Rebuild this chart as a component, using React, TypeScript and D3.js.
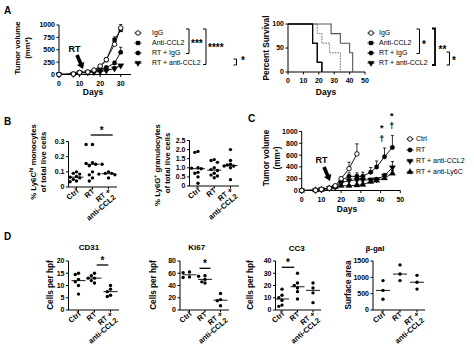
import React from 'react';
import * as d3 from 'd3';

const FONT = '"Liberation Sans", Arial, Helvetica, sans-serif';

// ---------- Panel A (left): tumor volume ----------
const aDays = [0, 7, 10, 14, 17, 20, 23, 27, 30];
const aIgG = [0, 10, 40, 50, 90, 170, 300, 610, 940];
const aIgGErr = [0, 3, 8, 10, 15, 25, 40, 110, 70];
const aAnti = [0, 10, 40, 50, 80, 160, 290, 700, 900];
const aAntiErr = [0, 3, 8, 10, 15, 25, 35, 60, 60];
const aRtIgG = [0, 10, 40, 50, 70, 110, 140, 230, 450];
const aRtIgGErr = [0, 3, 8, 10, 12, 20, 25, 40, 100];
const aRtAnti = [0, 10, 30, 40, 50, 60, 80, 120, 180];
const aRtAntiErr = [0, 3, 5, 8, 10, 12, 15, 40, 20];
const aLegend = ['IgG', 'Anti-CCL2', 'RT + IgG', 'RT + anti-CCL2'];
const aXTicks = [0, 10, 20, 30];
const aYTicks = [0, 250, 500, 750, 1000];

// ---------- Panel A (right): survival ----------
const sIgGDays = [0, 16, 19, 22];
const sIgGPct = [100, 60, 20, 0];
const sAntiDays = [0, 16, 19, 22];
const sAntiPct = [100, 60, 20, 0];
const sRtIgGDays = [0, 19, 22, 27, 34];
const sRtIgGPct = [100, 80, 60, 40, 0];
const sRtAntiDays = [0, 28, 34, 40, 42];
const sRtAntiPct = [100, 80, 60, 40, 0];
const sXTicks = [0, 10, 20, 30, 40, 50];
const sYTicks = [0, 50, 100];

// ---------- Panel C ----------
const cCtrlDays = [0, 7, 10, 14, 17, 20, 24, 28];
const cCtrl = [0, 5, 20, 40, 80, 200, 370, 620];
const cCtrlErr = [0, 2, 5, 10, 15, 30, 110, 170];
const cDays = [0, 7, 10, 14, 17, 20, 24, 28, 31, 35, 38, 42, 46];
const cRT = [0, 5, 20, 40, 70, 170, 240, 240, 240, 310, 400, 570, 730];
const cRTErr = [0, 2, 5, 10, 15, 40, 60, 60, 70, 80, 100, 150, 200];
const cRtAnti = [0, 5, 20, 40, 60, 130, 170, 180, 180, 180, 190, 250, 390];
const cRtAntiErr = [0, 2, 5, 10, 12, 30, 40, 50, 40, 30, 30, 40, 100];
const cRtLy6C = [0, 5, 15, 35, 60, 80, 80, 90, 100, 150, 170, 210, 290];
const cRtLy6CErr = [0, 2, 4, 8, 10, 15, 15, 20, 20, 25, 30, 30, 50];
const cLegend = ['Ctrl', 'RT', 'RT + anti-CCL2', 'RT + anti-Ly6C'];
const cXTicks = [0, 10, 20, 30, 40, 50];
const cYTicks = [0, 200, 400, 600, 800, 1000];

// ---------- Panel B ----------
const CATS = ['Ctrl', 'RT', 'RT + anti-CCL2'];
const CAT_LINES = [['Ctrl'], ['RT'], ['RT +', 'anti-CCL2']];
const ly6cCtrl = [0.1, 0.09, 0.085, 0.07, 0.065, 0.06, 0.05, 0.04, 0.035];
const ly6cRT = [0.28, 0.28, 0.16, 0.155, 0.15, 0.15, 0.14, 0.1, 0.08, 0.06, 0.04];
const ly6cRtAnti = [0.1, 0.09, 0.09, 0.085, 0.08, 0.06];
const ly6cTicks = [0, 0.1, 0.2, 0.3];
const ly6gCtrl = [1.9, 1.85, 1.0, 0.98, 0.95, 0.75, 0.7, 0.5, 0.15];
const ly6gRT = [1.45, 1.4, 1.3, 1.0, 0.9, 0.85, 0.7, 0.6, 0.55, 0.45];
const ly6gRtAnti = [2.0, 1.4, 1.2, 1.15, 1.1, 1.1, 1.0, 0.35];
const ly6gTicks = [0, 0.5, 1.0, 1.5, 2.0, 2.5];

// ---------- Panel D ----------
const cd31Ctrl = [15, 14.5, 12.5, 11.5, 10, 6.5];
const cd31RT = [15, 14, 13, 13, 12, 11];
const cd31RtAnti = [10, 8.5, 7.5, 6, 5.5];
const cd31Ticks = [0, 5, 10, 15, 20];
const ki67Ctrl = [62, 61, 54, 53];
const ki67RT = [56, 55, 50, 46, 44];
const ki67RtAnti = [27, 17, 15, 7];
const ki67Ticks = [0, 20, 40, 60, 80];
const cc3Ctrl = [17, 12, 10, 8, 4, 3];
const cc3RT = [30, 22, 20, 18, 15, 9];
const cc3RtAnti = [22, 18, 14, 6];
const cc3Ticks = [0, 10, 20, 30, 40];
const bgalCtrl = [900, 600, 330];
const bgalRT = [1380, 1100, 900];
const bgalRtAnti = [1060, 850, 640];
const bgalTicks = [0, 500, 1000, 1500];

type Kind = 'open' | 'square' | 'circle' | 'triDown' | 'triUp';

function Marker({ x, y, kind }: { x: number; y: number; kind: Kind }) {
  const t = kind === 'square' ? d3.symbolSquare : kind === 'triDown' || kind === 'triUp' ? d3.symbolTriangle : d3.symbolCircle;
  const size = kind === 'square' ? 15 : kind === 'triDown' || kind === 'triUp' ? 17 : 16;
  const p = d3.symbol().type(t).size(size)() as string;
  return (
    <path
      d={p}
      transform={`translate(${x},${y})${kind === 'triDown' ? ' rotate(180)' : ''}`}
      fill={kind === 'open' ? '#fff' : '#000'}
      stroke="#000"
      strokeWidth={kind === 'open' ? 0.9 : 0.3}
    />
  );
}

function AxisLeft({ scale, x, ticks, fmt }: any) {
  const [r0, r1] = scale.range();
  return (
    <g>
      <line x1={x} x2={x} y1={r0} y2={r1} stroke="#000" strokeWidth={1} />
      {ticks.map((t: number) => (
        <g key={t}>
          <line x1={x - 2.5} x2={x} y1={scale(t)} y2={scale(t)} stroke="#000" />
          <text x={x - 4} y={scale(t)} dy="0.35em" textAnchor="end" fontSize={7} fontWeight="bold">
            {fmt ? fmt(t) : t}
          </text>
        </g>
      ))}
    </g>
  );
}

function AxisBottom({ scale, y, ticks, xEnd }: any) {
  const [r0, r1] = scale.range();
  return (
    <g>
      <line x1={r0} x2={xEnd ?? r1} y1={y} y2={y} stroke="#000" strokeWidth={1} />
      {ticks.map((t: number) => (
        <g key={t}>
          <line x1={scale(t)} x2={scale(t)} y1={y} y2={y + 2.5} stroke="#000" />
          <text x={scale(t)} y={y + 6.5} dy="0.71em" textAnchor="middle" fontSize={7} fontWeight="bold">
            {t}
          </text>
        </g>
      ))}
    </g>
  );
}

function RotLabel({ x, y, size = 8, children }: any) {
  return (
    <text transform={`translate(${x},${y}) rotate(-90)`} textAnchor="middle" dy="0.35em" fontSize={size} fontWeight="bold">
      {children}
    </text>
  );
}

function Arrow({ x1, y1, x2, y2 }: any) {
  const dx = x2 - x1, dy = y2 - y1;
  const L = Math.hypot(dx, dy);
  const ux = dx / L, uy = dy / L;
  const nx = -uy, ny = ux;
  const hl = 6, sw = 1.8, hw = 4;
  const bx = x2 - ux * hl, by = y2 - uy * hl;
  const pts = [
    [x1 + nx * sw, y1 + ny * sw],
    [bx + nx * sw, by + ny * sw],
    [bx + nx * hw, by + ny * hw],
    [x2, y2],
    [bx - nx * hw, by - ny * hw],
    [bx - nx * sw, by - ny * sw],
    [x1 - nx * sw, y1 - ny * sw],
  ];
  return <polygon points={pts.map((p) => p.join(',')).join(' ')} fill="#000" />;
}

function LineSeries({ xs, vals, errs, kind, x, y }: any) {
  const line = d3.line<number>().x((_, i) => x(xs[i])).y((v) => y(v));
  return (
    <g>
      <path d={line(vals) as string} fill="none" stroke="#000" strokeWidth={0.9} />
      {vals.map((v: number, i: number) =>
        errs && errs[i] > 0 ? (
          <g key={'e' + i}>
            <line x1={x(xs[i])} x2={x(xs[i])} y1={y(v)} y2={y(v + errs[i])} stroke="#000" strokeWidth={0.8} />
            <line x1={x(xs[i]) - 1.6} x2={x(xs[i]) + 1.6} y1={y(v + errs[i])} y2={y(v + errs[i])} stroke="#000" strokeWidth={0.8} />
          </g>
        ) : null
      )}
      {vals.map((v: number, i: number) => (
        <Marker key={'m' + i} x={x(xs[i])} y={y(v)} kind={kind} />
      ))}
    </g>
  );
}

function Legend({ x, ys, labels, kinds, textX }: any) {
  return (
    <g>
      {labels.map((l: string, i: number) => (
        <g key={l}>
          <line x1={x - 3.5} x2={x + 3.5} y1={ys[i]} y2={ys[i]} stroke="#000" strokeWidth={0.9} />
          <Marker x={x} y={ys[i]} kind={kinds[i]} />
          <text x={textX} y={ys[i]} dy="0.35em" fontSize={7} fill="#000">
            {l}
          </text>
        </g>
      ))}
    </g>
  );
}

function Bracket({ x, y1, y2, w = 1, label, lx, ly, size = 10 }: any) {
  return (
    <g>
      <path d={`M${x - 3},${y1} H${x} V${y2} H${x - 3}`} fill="none" stroke="#000" strokeWidth={w} />
      {label ? (
        <text x={lx} y={ly} fontSize={size} fontWeight="bold">
          {label}
        </text>
      ) : null}
    </g>
  );
}

function swarm(values: number[], y: any, cx: number) {
  const placed: { x: number; y: number; i: number }[] = [];
  const order = values.map((_, i) => i).sort((a, b) => values[b] - values[a]);
  const cands = [0, -1, 1, -2, 2, -3, 3, -4, 4];
  order.forEach((i) => {
    const yy = y(values[i]);
    for (const c of cands) {
      const xx = cx + c * 3.2;
      if (placed.every((p) => Math.hypot(p.x - xx, p.y - yy) >= 3.3)) {
        placed.push({ x: xx, y: yy, i });
        break;
      }
    }
  });
  return placed;
}

function Scatter({ axisX, catRange, yRange, yMax, ticks, fmt, groups, xEnd }: any) {
  const x = d3.scalePoint<string>().domain(CATS).range(catRange);
  const y = d3.scaleLinear().domain([0, yMax]).range(yRange);
  const y0 = yRange[0];
  return (
    <g>
      <AxisLeft scale={y} x={axisX} ticks={ticks} fmt={fmt} />
      <line x1={axisX} x2={xEnd} y1={y0} y2={y0} stroke="#000" />
      {CATS.map((c, ci) => {
        const cx = x(c) as number;
        const pts = swarm(groups[ci], y, cx);
        const med = d3.median(groups[ci]) as number;
        return (
          <g key={c}>
            <line x1={cx} x2={cx} y1={y0} y2={y0 + 2.5} stroke="#000" />
            {pts.map((p) => (
              <circle key={p.i} cx={p.x} cy={p.y} r={1.7} fill="#000" />
            ))}
            <line x1={cx - 7} x2={cx + 7} y1={y(med)} y2={y(med)} stroke="#000" strokeWidth={0.9} />
            <g transform={`translate(${cx + 2.5},${y0 + 5}) rotate(-40)`}>
              <text textAnchor="end" fontSize={7.5} fontWeight="bold" dy="0.35em">
                {CAT_LINES[ci].map((t, li) => (
                  <tspan key={li} x={0} dy={li === 0 ? 0 : 8}>
                    {t}
                  </tspan>
                ))}
              </text>
            </g>
          </g>
        );
      })}
    </g>
  );
}

function SigBar({ x1, x2, y }: any) {
  return (
    <g>
      <line x1={x1} x2={x2} y1={y} y2={y} stroke="#000" strokeWidth={1.3} />
      <text x={(x1 + x2) / 2} y={y - 1} textAnchor="middle" fontSize={10} fontWeight="bold">
        *
      </text>
    </g>
  );
}

function StarDagger({ x, y }: any) {
  return (
    <g>
      <text x={x} y={y} textAnchor="middle" fontSize={9} fontWeight="bold" fill="#000">*</text>
      <text x={x} y={y + 10.5} textAnchor="middle" fontSize={9} fontWeight="bold" fill="#000">†</text>
    </g>
  );
}

const fmt1 = (t: number) => (t === 0 ? '0' : d3.format('.1f')(t));

export default function App() {
  // Panel A left
  const axA = d3.scaleLinear().domain([0, 35]).range([59, 131]);
  const ayA = d3.scaleLinear().domain([0, 1000]).range([74.5, 25]);
  // Panel A right
  const sx = d3.scaleLinear().domain([0, 50]).range([288, 365]);
  const sy = d3.scaleLinear().domain([0, 100]).range([72, 24]);
  // Panel C
  const cx = d3.scaleLinear().domain([0, 50]).range([301.7, 400.3]);
  const cy = d3.scaleLinear().domain([0, 1000]).range([190.5, 131.5]);

  const step = d3.line<[number, number]>().curve(d3.curveStepAfter);
  const survPath = (days: number[], pct: number[]) =>
    step(days.map((d, i) => [sx(d), sy(pct[i])] as [number, number])) as string;

  const legYs = [33, 43, 53, 63];
  const cLegYs = [139, 150, 161, 172];
  const aKinds: Kind[] = ['open', 'square', 'circle', 'triDown'];
  const cKinds: Kind[] = ['open', 'circle', 'triDown', 'triUp'];

  return (
    <svg
      width={474}
      height={357}
      viewBox="0 0 474 357"
      style={{ position: 'absolute', left: 0, top: 0, background: '#fff' }}
      fontFamily={FONT}
    >
      <rect x={0} y={0} width={474} height={357} fill="#fff" />
      {/* panel letters */}
      <text x={4} y={13.5} fontSize={10} fontWeight="bold">A</text>
      <text x={4} y={124.5} fontSize={10} fontWeight="bold">B</text>
      <text x={248} y={121.5} fontSize={10} fontWeight="bold">C</text>
      <text x={4} y={239.5} fontSize={10} fontWeight="bold">D</text>

      {/* ===== A left ===== */}
      <AxisLeft scale={ayA} x={59} ticks={aYTicks} />
      <AxisBottom scale={axA} y={74.5} ticks={aXTicks} />
      <RotLabel x={17} y={48} size={7.8}>Tumor volume</RotLabel>
      <RotLabel x={27} y={48} size={7.8}>(mm³)</RotLabel>
      <text x={93} y={92.5} dy="0.35em" textAnchor="middle" fontSize={8.5} fontWeight="bold">Days</text>
      <LineSeries xs={aDays} vals={aRtAnti} errs={aRtAntiErr} kind="triDown" x={axA} y={ayA} />
      <LineSeries xs={aDays} vals={aRtIgG} errs={aRtIgGErr} kind="circle" x={axA} y={ayA} />
      <LineSeries xs={aDays} vals={aAnti} errs={aAntiErr} kind="square" x={axA} y={ayA} />
      <LineSeries xs={aDays} vals={aIgG} errs={aIgGErr} kind="open" x={axA} y={ayA} />
      <text x={74.5} y={48.5} dy="0.35em" textAnchor="middle" fontSize={9} fontWeight="bold">RT</text>
      <Arrow x1={77} y1={55} x2={83} y2={69} />
      <Legend x={138} ys={legYs} labels={aLegend} kinds={aKinds} textX={152} />
      <Bracket x={189} y1={29} y2={53.5} label="***" lx={191} ly={47} />
      <Bracket x={206} y1={29} y2={64.5} label="****" lx={208} ly={50.5} />
      <Bracket x={236.5} y1={59} y2={65} />

      {/* ===== A right ===== */}
      <text x={243} y={64} textAnchor="middle" fontSize={10} fontWeight="bold">*</text>
      <AxisLeft scale={sy} x={288} ticks={sYTicks} />
      <AxisBottom scale={sx} y={72} ticks={sXTicks} />
      <RotLabel x={266} y={48} size={8.3}>Percent Survival</RotLabel>
      <text x={326} y={92.5} dy="0.35em" textAnchor="middle" fontSize={8.5} fontWeight="bold">Days</text>
      <path d={survPath(sRtAntiDays, sRtAntiPct)} fill="none" stroke="#555" strokeWidth={1.1} />
      <path d={survPath(sRtIgGDays, sRtIgGPct)} fill="none" stroke="#666" strokeWidth={1} strokeDasharray="1.5,1.2" />
      <path d={survPath(sAntiDays, sAntiPct)} fill="none" stroke="#000" strokeWidth={1.1} />
      <path d={survPath(sIgGDays, sIgGPct)} fill="none" stroke="#000" strokeWidth={1.1} />
      <Legend x={371} ys={legYs} labels={aLegend} kinds={aKinds} textX={379} />
      <Bracket x={419.5} y1={29} y2={53.5} label="*" lx={422} ly={47.5} />
      <Bracket x={435} y1={28.5} y2={65} w={1.8} label="**" lx={438.5} ly={52.5} />
      <Bracket x={449.5} y1={52} y2={65} label="*" lx={452} ly={63.5} />

      {/* ===== B ===== */}
      <Scatter
        axisX={68.5}
        catRange={[76.5, 108.5]}
        yRange={[187, 141.5]}
        yMax={0.3}
        ticks={ly6cTicks}
        fmt={(t: number) => (t === 0 ? '0' : d3.format('.1f')(t))}
        groups={[ly6cCtrl, ly6cRT, ly6cRtAnti]}
        xEnd={117}
      />
      <SigBar x1={90.7} x2={112.7} y={135} />
      <text transform="translate(33,162) rotate(-90)" textAnchor="middle" dy="0.35em" fontSize={7.8} fontWeight="bold">
        % Ly6C<tspan dy={-2.5} fontSize={5}>hi</tspan>
        <tspan dy={2.5}> monocytes</tspan>
      </text>
      <RotLabel x={43} y={162} size={7.8}>of total live cells</RotLabel>

      <Scatter
        axisX={189.5}
        catRange={[198, 230.5]}
        yRange={[186, 140.5]}
        yMax={2.5}
        ticks={ly6gTicks}
        fmt={fmt1}
        groups={[ly6gCtrl, ly6gRT, ly6gRtAnti]}
        xEnd={239}
      />
      <text transform="translate(157,165) rotate(-90)" textAnchor="middle" dy="0.35em" fontSize={7.8} fontWeight="bold">
        % Ly6G<tspan dy={-2.5} fontSize={5}>+</tspan>
        <tspan dy={2.5}> granulocytes</tspan>
      </text>
      <RotLabel x={167} y={163} size={7.8}>of total live cells</RotLabel>

      {/* ===== C ===== */}
      <AxisLeft scale={cy} x={301.7} ticks={cYTicks} />
      <AxisBottom scale={cx} y={190.5} ticks={cXTicks} />
      <RotLabel x={266.5} y={158} size={8.3}>Tumor volume</RotLabel>
      <RotLabel x={277} y={158} size={8.3}>(mm³)</RotLabel>
      <text x={347} y={209} dy="0.35em" textAnchor="middle" fontSize={8.5} fontWeight="bold">Days</text>
      <LineSeries xs={cDays} vals={cRtLy6C} errs={cRtLy6CErr} kind="triUp" x={cx} y={cy} />
      <LineSeries xs={cDays} vals={cRtAnti} errs={cRtAntiErr} kind="triDown" x={cx} y={cy} />
      <LineSeries xs={cDays} vals={cRT} errs={cRTErr} kind="circle" x={cx} y={cy} />
      <LineSeries xs={cCtrlDays} vals={cCtrl} errs={cCtrlErr} kind="open" x={cx} y={cy} />
      <text x={321.5} y={160} dy="0.35em" textAnchor="middle" fontSize={9} fontWeight="bold">RT</text>
      <Arrow x1={324} y1={167} x2={330} y2={181} />
      <StarDagger x={381.7} y={131} />
      <StarDagger x={391.7} y={118.5} />
      <Legend x={410} ys={cLegYs} labels={cLegend} kinds={cKinds} textX={416} />

      {/* ===== D ===== */}
      <text x={89} y={247} dy="0.35em" textAnchor="middle" fontSize={8} fontWeight="bold">CD31</text>
      <Scatter axisX={68.5} catRange={[78.5, 110.5]} yRange={[310, 261]} yMax={20} ticks={cd31Ticks} groups={[cd31Ctrl, cd31RT, cd31RtAnti]} xEnd={119} />
      <SigBar x1={96.7} x2={108.3} y={265} />
      <RotLabel x={50} y={285} size={8.2}>Cells per hpf</RotLabel>

      <text x={196.7} y={247} dy="0.35em" textAnchor="middle" fontSize={8} fontWeight="bold">Ki67</text>
      <Scatter axisX={180} catRange={[189.5, 220.5]} yRange={[310, 261]} yMax={80} ticks={ki67Ticks} groups={[ki67Ctrl, ki67RT, ki67RtAnti]} xEnd={229} />
      <SigBar x1={199.5} x2={210.5} y={268.3} />
      <RotLabel x={152.7} y={285} size={8.2}>Cells per hpf</RotLabel>

      <text x={296.7} y={248} dy="0.35em" textAnchor="middle" fontSize={8} fontWeight="bold">CC3</text>
      <Scatter axisX={275.5} catRange={[282, 313]} yRange={[310, 261]} yMax={40} ticks={cc3Ticks} groups={[cc3Ctrl, cc3RT, cc3RtAnti]} xEnd={321} />
      <SigBar x1={281.7} x2={294.3} y={267.3} />
      <RotLabel x={250} y={285} size={8.2}>Cells per hpf</RotLabel>

      <text x={375} y={248} dy="0.35em" textAnchor="middle" fontSize={8} fontWeight="bold">β-gal</text>
      <Scatter axisX={373} catRange={[383, 417]} yRange={[310, 261]} yMax={1500} ticks={bgalTicks} groups={[bgalCtrl, bgalRT, bgalRtAnti]} xEnd={425} />
      <RotLabel x={348.3} y={285} size={8.2}>Surface area</RotLabel>
    </svg>
  );
}
